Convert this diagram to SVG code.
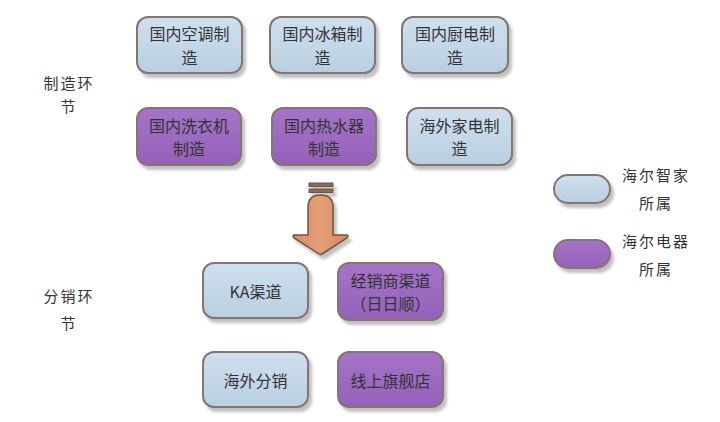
<svg xmlns="http://www.w3.org/2000/svg" width="720" height="422" viewBox="0 0 720 422">
<defs>
<linearGradient id="gb" x1="0" y1="0" x2="0" y2="1"><stop offset="0" stop-color="#cfe0ee"/><stop offset="1" stop-color="#b9cfe1"/></linearGradient>
<linearGradient id="gp" x1="0" y1="0" x2="0" y2="1"><stop offset="0" stop-color="#a574c9"/><stop offset="1" stop-color="#9461b8"/></linearGradient>
<linearGradient id="ga" x1="0" y1="0" x2="1" y2="0"><stop offset="0" stop-color="#d98a5c"/><stop offset="0.5" stop-color="#e4a078"/><stop offset="1" stop-color="#d5875a"/></linearGradient>
<filter id="sh" x="-10%" y="-10%" width="130%" height="140%"><feGaussianBlur in="SourceAlpha" stdDeviation="1.5"/><feOffset dx="3" dy="4"/><feComponentTransfer><feFuncA type="linear" slope="0.25"/></feComponentTransfer><feMerge><feMergeNode/><feMergeNode in="SourceGraphic"/></feMerge></filter>
</defs>
<style>
.b{fill:url(#gb);stroke:#857470;stroke-width:2;filter:url(#sh)}
.p{fill:url(#gp);stroke:#857470;stroke-width:2;filter:url(#sh)}
.t{font-family:"Noto Sans CJK SC","Liberation Sans",sans-serif;font-size:16px;fill:#333;text-anchor:middle;dominant-baseline:central}
.l{font-family:"Noto Sans CJK SC","Liberation Sans",sans-serif;font-size:15px;fill:#333;text-anchor:middle;dominant-baseline:central;letter-spacing:2px}
</style>
<rect width="720" height="422" fill="#fff"/>
<g id="label-mfg"><text class="l" x="69" y="82">制造环</text><text class="l" x="69" y="105">节</text></g>
<g id="label-dist"><text class="l" x="69" y="295">分销环</text><text class="l" x="69" y="322">节</text></g>
<g id="n1"><rect class="b" x="137" y="17" width="105" height="56" rx="11"/><text class="t" x="189.5" y="33">国内空调制</text><text class="t" x="189.5" y="57">造</text></g>
<g id="n2"><rect class="b" x="270" y="17" width="105" height="56" rx="11"/><text class="t" x="322.5" y="33">国内冰箱制</text><text class="t" x="322.5" y="57">造</text></g>
<g id="n3"><rect class="b" x="402" y="17" width="106" height="56" rx="11"/><text class="t" x="455" y="33">国内厨电制</text><text class="t" x="455" y="57">造</text></g>
<g id="n4"><rect class="p" x="137" y="108" width="104" height="57" rx="11"/><text class="t" x="189" y="125">国内洗衣机</text><text class="t" x="189" y="148">制造</text></g>
<g id="n5"><rect class="p" x="272" y="108" width="104" height="57" rx="11"/><text class="t" x="324" y="125">国内热水器</text><text class="t" x="324" y="148">制造</text></g>
<g id="n6"><rect class="b" x="407" y="108" width="105" height="57" rx="11"/><text class="t" x="459.5" y="125">海外家电制</text><text class="t" x="459.5" y="148">造</text></g>
<g id="connectors">
<g id="arrow" filter="url(#sh)">
<rect x="309" y="183" width="24" height="3.5" fill="#8a6a5a" stroke="#6b5448" stroke-width="1"/>
<rect x="309" y="189" width="24" height="3.5" fill="#8a6a5a" stroke="#6b5448" stroke-width="1"/>
<path d="M308 235 L308 207 Q308 195 320.5 195 Q333 195 333 207 L333 235 L347 235 Q349 236 347 238 L322 254 Q320.5 255 319 254 L294 238 Q292 236 294 235 Z" fill="url(#ga)" stroke="#6b5448" stroke-width="1.5"/>
</g>
</g>
<g id="n7"><rect class="b" x="203" y="263" width="105" height="55" rx="11"/><text class="t" x="255.5" y="291">KA渠道</text></g>
<g id="n8"><rect class="p" x="338" y="263" width="105" height="57" rx="11"/><text class="t" x="390.5" y="280">经销商渠道</text><text class="t" x="390.5" y="303">（日日顺）</text></g>
<g id="n9"><rect class="b" x="203" y="352" width="105" height="55" rx="11"/><text class="t" x="255.5" y="380">海外分销</text></g>
<g id="n10"><rect class="p" x="338" y="352" width="105" height="55" rx="11"/><text class="t" x="390.5" y="380">线上旗舰店</text></g>
<g id="legend-zhijia"><rect class="b" x="554" y="175" width="56" height="28" rx="14"/><text class="l" x="656" y="174">海尔智家</text><text class="l" x="656" y="202">所属</text></g>
<g id="legend-dianqi"><rect class="p" x="554" y="240" width="56" height="28" rx="14"/><text class="l" x="656" y="240">海尔电器</text><text class="l" x="656" y="268">所属</text></g>
</svg>
